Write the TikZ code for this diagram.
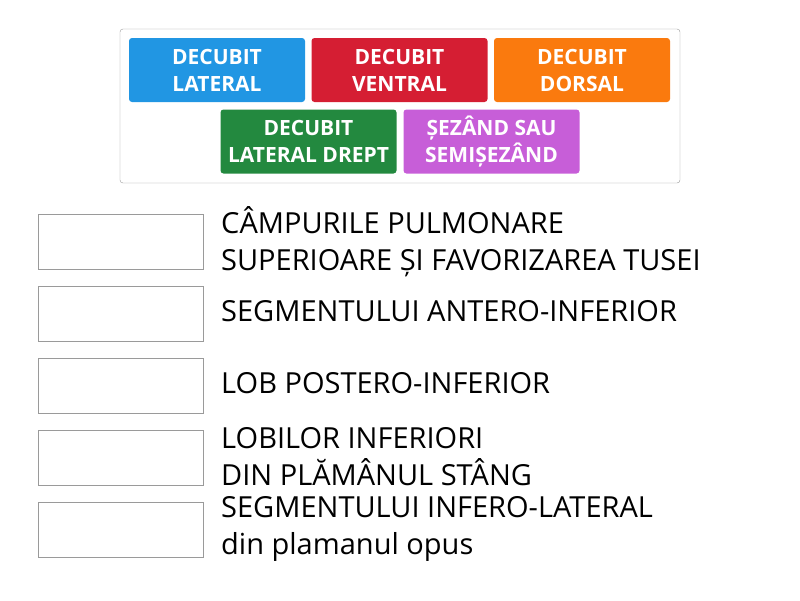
\documentclass[tikz,border=0pt]{standalone}
\usepackage{fontspec}
\setmainfont{Open Sans}
\usetikzlibrary{positioning}
\definecolor{cblue}{HTML}{2196E3}
\definecolor{cred}{HTML}{D51E33}
\definecolor{corange}{HTML}{FA7A0E}
\definecolor{cgreen}{HTML}{23893F}
\definecolor{cpurple}{HTML}{C75ED8}
\definecolor{cframe}{HTML}{9A9A9A}

\begin{document}
\begin{tikzpicture}[
      x=1pt, y=-1pt,
      tile/.style={
        rounded corners=3pt,
        minimum width=176pt,
        minimum height=64pt,
        inner sep=0pt,
        align=center,
        text=white,
        font=\fontsize{21}{27}\selectfont\bfseries
      },
      slot/.style={
        draw=cframe,
        minimum width=165pt,
        minimum height=55pt,
        inner sep=0pt
      },
      answer/.style={
        anchor=west,
        align=left,
        inner sep=0pt,
        font=\fontsize{29}{37}\selectfont
      }
    ]
    \useasboundingbox (0,0) rectangle (800,600);
    %% Frame
    \draw[cframe, rounded corners=3pt] (120,29) rectangle (680,183);
    %% Tiles
    \node[tile, fill=cblue] (t-lat) at (217,70) {DECUBIT\\LATERAL};
    \node[tile, fill=cred] (t-ven) at (399.5,70) {DECUBIT\\VENTRAL};
    \node[tile, fill=corange] (t-dor) at (582,70) {DECUBIT\\DORSAL};
    \node[tile, fill=cgreen] (t-dr) at (308.5,141.5) {DECUBIT\\LATERAL DREPT};
    \node[tile, fill=cpurple] (t-sez) at (491.5,141.5) {ȘEZÂND SAU\\SEMIȘEZÂND};
    %% Slots and answers
    \node[slot] (s-1) at (120.5,241.5) {};
    \node[slot] (s-2) at (120.5,313.5) {};
    \node[slot] (s-3) at (120.5,385.5) {};
    \node[slot] (s-4) at (120.5,457.5) {};
    \node[slot] (s-5) at (120.5,529.5) {};
    \node[answer] (a-1) at (221,241.5) {CÂMPURILE PULMONARE\\SUPERIOARE ȘI FAVORIZAREA TUSEI};
    \node[answer] (a-2) at (221,311.5) {SEGMENTULUI ANTERO-INFERIOR};
    \node[answer] (a-3) at (221,383.5) {LOB POSTERO-INFERIOR};
    \node[answer] (a-4) at (221,456.5) {LOBILOR INFERIORI\\DIN PLĂMÂNUL STÂNG};
    \node[answer] (a-5) at (221,528.5) {SEGMENTULUI INFERO-LATERAL\\din plamanul opus};
  \end{tikzpicture}
\end{document}
